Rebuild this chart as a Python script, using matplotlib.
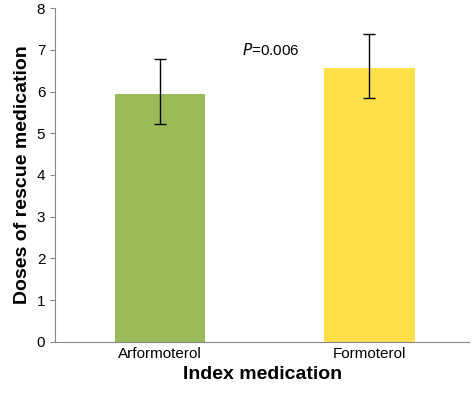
import matplotlib
matplotlib.use("Agg")
import matplotlib.pyplot as plt

plt.rcParams['font.family'] = ['Liberation Sans', 'DejaVu Sans']

categories = ["Arformoterol", "Formoterol"]
values = [5.95, 6.57]
err_low = [5.22, 5.85]
err_high = [6.77, 7.38]
colors = ["#9BBB59", "#FFE04A"]

fig = plt.figure(figsize=(4.74, 4.05), dpi=100)
ax = fig.add_axes([0.116, 0.156, 0.874, 0.824])
x = list(range(len(categories)))
yerr = [[v - l for v, l in zip(values, err_low)], [h - v for v, h in zip(values, err_high)]]
ax.bar(x, values, width=0.43, color=colors, yerr=yerr, capsize=4,
       error_kw=dict(elinewidth=1, ecolor="black", capthick=1))
ax.set_xlim(-0.5, 1.476)
ax.set_ylim(0, 8)
ax.set_yticks(range(0, 9))
ax.set_xticks(x)
ax.set_xticklabels(categories, fontsize=11)
ax.tick_params(axis="both", labelsize=11, color="#888888")
ax.tick_params(axis="x", length=0)
ax.spines["top"].set_visible(False)
ax.spines["right"].set_visible(False)
for s in ("left", "bottom"):
    ax.spines[s].set_color("#888888")
ax.set_ylabel("Doses of rescue medication", fontsize=14, fontweight="bold")
ax.set_xlabel("Index medication", fontsize=14, fontweight="bold")
ax.text(0.53, 7.0, r"$\it{P}$=0.006", fontsize=11, ha="center", va="center")
fig.savefig("out.png", dpi=100)
